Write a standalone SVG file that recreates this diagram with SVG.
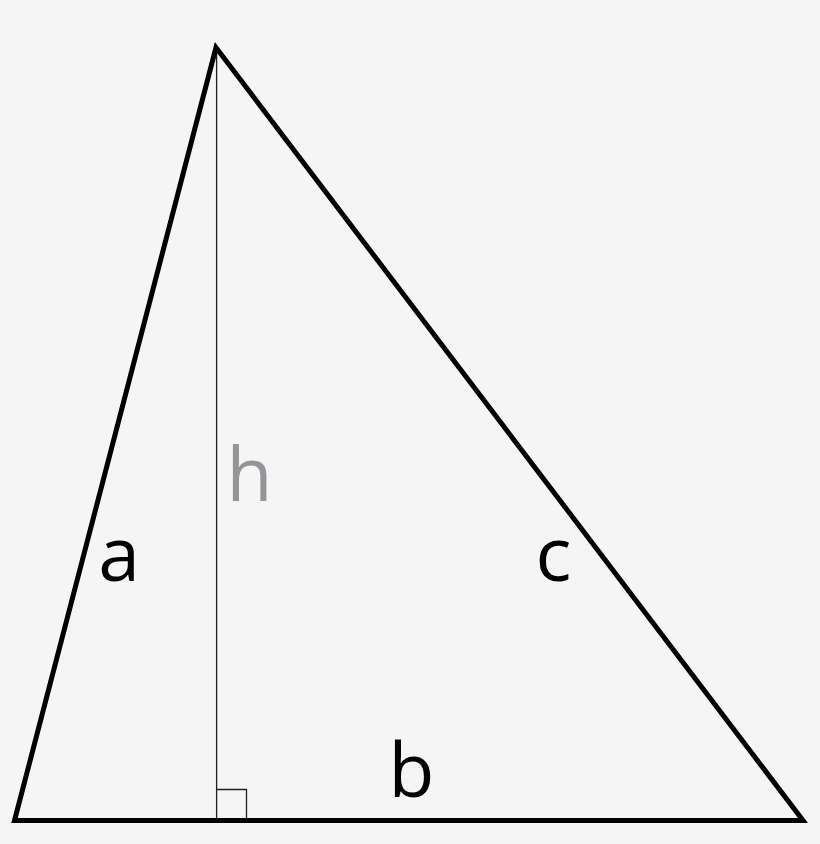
<svg xmlns="http://www.w3.org/2000/svg" width="820" height="844" viewBox="0 0 820 844">
  <style>
    .edge { fill: none; stroke: #000; stroke-width: 5; stroke-linejoin: miter; }
    .thin { fill: none; stroke: #231f20; stroke-width: 1.3; }
    .lbl { font-family: "Open Sans", "Liberation Sans", sans-serif; font-size: 75px; text-anchor: middle; fill: #000; }
    .grey { fill: #939598; }
  </style>
  <rect width="820" height="844" fill="#f5f5f5"/>
  <g id="connectors">
    <line class="thin" x1="216.6" y1="47" x2="216.6" y2="820"/>
    <polyline class="thin" points="216.6,789.5 246.5,789.5 246.5,820"/>
  </g>
  <g id="triangle">
    <polygon class="edge" points="216,47.5 14.5,820.5 803,820.5"/>
  </g>
  <g id="label-a"><text class="lbl" x="119" y="581">a</text></g>
  <g id="label-h"><text class="lbl grey" x="249.5" y="501">h</text></g>
  <g id="label-c"><text class="lbl" x="553.5" y="581">c</text></g>
  <g id="label-b"><text class="lbl" x="411.5" y="797">b</text></g>
</svg>
